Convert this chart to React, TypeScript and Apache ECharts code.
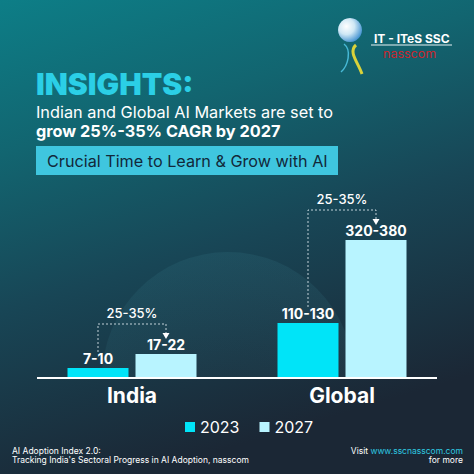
import React, { useEffect, useRef } from "react";
import * as echarts from "echarts";

const categories = ["India", "Global"];
const years = ["2023", "2027"];
// bar heights as drawn in the infographic (visual units)
const barHeights2023 = [10, 55];
const barHeights2027 = [24, 138];
const labels2023 = ["7-10", "110-130"];
const labels2027 = ["17-22", "320-380"];
const growthLabels = ["25-35%", "25-35%"];

const C2023 = "#00e4f8";
const C2027 = "#b8f4ff";
const FONT = "Inter, 'Open Sans', sans-serif";

export default function App() {
  const ref = useRef<HTMLDivElement>(null);
  useEffect(() => {
    if (!ref.current) return;
    const chart = echarts.init(ref.current, null, { renderer: "svg" });
    const BAR_W = 61;
    const GAP = 7;

    const staticGraphics: any[] = [
      {
        type: "sector",
        z: 0,
        shape: { cx: 228, cy: 378, r0: 0, r: 126, startAngle: Math.PI, endAngle: Math.PI * 2 },
        style: {
          fill: new echarts.graphic.RadialGradient(0.5, 1, 1, [
            { offset: 0, color: "rgba(70,150,165,0.06)" },
            { offset: 1, color: "rgba(70,150,165,0.13)" },
          ]),
        },
      },
      // logo
      {
        type: "circle",
        z: 5,
        shape: { cx: 350, cy: 30, r: 12 },
        style: {
          fill: new echarts.graphic.RadialGradient(0.35, 0.35, 0.75, [
            { offset: 0, color: "#ffffff" },
            { offset: 0.45, color: "#cfe8f5" },
            { offset: 1, color: "#2f86cc" },
          ]),
        },
      },
      {
        type: "bezierCurve",
        z: 5,
        shape: { x1: 356, y1: 45, cpx1: 348, cpy1: 52, cpx2: 358, cpy2: 62, x2: 362, y2: 74 },
        style: { stroke: "#d9d23a", lineWidth: 3, fill: "none" },
      },
      {
        type: "bezierCurve",
        z: 5,
        shape: { x1: 344, y1: 44, cpx1: 352, cpy1: 50, cpx2: 348, cpy2: 66, x2: 341, y2: 72 },
        style: { stroke: "#47b9d6", lineWidth: 1.5, fill: "none" },
      },
      {
        type: "text",
        z: 5,
        x: 374,
        y: 38,
        style: {
          text: "IT - ITeS SSC",
          fill: "#ffffff",
          font: `bold 12px ${FONT}`,
          lineHeight: 10,
          textVerticalAlign: "middle",
        },
      },
      {
        type: "line",
        z: 5,
        shape: { x1: 371, y1: 45, x2: 452, y2: 45 },
        style: { stroke: "#e8f2f5", lineWidth: 1 },
      },
      {
        type: "text",
        z: 5,
        x: 383,
        y: 53,
        style: { text: "nasscom", fill: "#c9262d", font: `12.5px ${FONT}`, lineHeight: 10, textVerticalAlign: "middle" },
      },
      // header
      {
        type: "text",
        x: 36,
        y: 84,
        style: {
          text: "INSIGHTS:",
          fill: "#2bcfe6",
          font: `900 30px ${FONT}`,
          lineHeight: 24,
          textVerticalAlign: "middle",
        },
      },
      {
        type: "text",
        x: 36,
        y: 111.5,
        style: {
          text: "Indian and Global AI Markets are set to",
          fill: "#ffffff",
          font: `16.3px ${FONT}`,
          lineHeight: 16,
          textVerticalAlign: "middle",
        },
      },
      {
        type: "text",
        x: 36,
        y: 131,
        style: {
          text: "grow 25%-35% CAGR by 2027",
          fill: "#ffffff",
          font: `bold 16.3px ${FONT}`,
          lineHeight: 16,
          textVerticalAlign: "middle",
        },
      },
      {
        type: "rect",
        shape: { x: 36, y: 146, width: 302, height: 29 },
        style: { fill: "#3fc6df" },
      },
      {
        type: "text",
        x: 47,
        y: 161,
        style: {
          text: "Crucial Time to Learn & Grow with AI",
          fill: "#12283a",
          font: `16.2px ${FONT}`,
          textVerticalAlign: "middle",
        },
      },
      // baseline
      {
        type: "line",
        z: 10,
        shape: { x1: 37, y1: 378, x2: 437, y2: 378 },
        style: { stroke: "#ffffff", lineWidth: 2 },
      },
      // footer
      {
        type: "text",
        x: 12,
        y: 451,
        style: { text: "AI Adoption Index 2.0:", fill: "#ffffff", font: `8.5px ${FONT}`, textVerticalAlign: "middle" },
      },
      {
        type: "text",
        x: 12,
        y: 460,
        style: {
          text: "Tracking India's Sectoral Progress in AI Adoption, nasscom",
          fill: "#ffffff",
          font: `8.5px ${FONT}`,
          textVerticalAlign: "middle",
        },
      },
      {
        type: "text",
        x: 463,
        y: 451,
        style: {
          text: "{a|Visit }{b|www.sscnasscom.com}",
          textAlign: "right",
          textVerticalAlign: "middle",
          font: `8.5px ${FONT}`,
          rich: {
            a: { fill: "#ffffff", fontSize: 8.5, fontFamily: FONT },
            b: { fill: "#2ec9e0", fontSize: 8.5, fontFamily: FONT },
          },
        },
      },
      {
        type: "text",
        x: 463,
        y: 460,
        style: { text: "for more", fill: "#ffffff", font: `8.5px ${FONT}`, textAlign: "right", textVerticalAlign: "middle" },
      },
    ];

    const option: any = {
      animation: false,
      backgroundColor: new echarts.graphic.LinearGradient(0, 0, 0.3, 1, [
        { offset: 0, color: "#0d7e87" },
        { offset: 0.3, color: "#126570" },
        { offset: 0.6, color: "#184656" },
        { offset: 1, color: "#1b2735" },
      ]),
      grid: { left: 27, right: 27, top: 178, bottom: 96, containLabel: false },
      legend: {
        data: years,
        left: 180,
        top: 414,
        icon: "rect",
        itemWidth: 10,
        itemHeight: 10,
        itemGap: 20,
        textStyle: { color: "#ffffff", fontSize: 16, fontFamily: FONT },
      },
      xAxis: {
        type: "category",
        data: categories,
        axisLine: { show: false },
        axisTick: { show: false },
        axisLabel: { color: "#ffffff", fontSize: 21, fontWeight: "bold", fontFamily: FONT, margin: 7 },
      },
      yAxis: { type: "value", min: 0, max: 200, show: false, splitLine: { show: false } },
      series: [
        {
          name: years[0],
          type: "bar",
          data: barHeights2023,
          barWidth: BAR_W,
          barGap: `${(GAP / BAR_W) * 100}%`,
          itemStyle: { color: C2023 },
          z: 3,
          label: {
            show: true,
            position: "top",
            distance: 3,
            color: "#ffffff",
            fontSize: 14,
            fontWeight: "bold",
            fontFamily: FONT,
            formatter: (p: any) => labels2023[p.dataIndex],
          },
        },
        {
          name: years[1],
          type: "bar",
          data: barHeights2027,
          barWidth: BAR_W,
          itemStyle: { color: C2027 },
          z: 3,
          label: {
            show: true,
            position: "top",
            distance: 3,
            color: "#ffffff",
            fontSize: 14,
            fontWeight: "bold",
            fontFamily: FONT,
            formatter: (p: any) => labels2027[p.dataIndex],
          },
        },
      ],
      graphic: { elements: staticGraphics },
    };
    chart.setOption(option);

    // growth annotations computed from the chart's own scales
    const dyn: any[] = [];
    const off = (BAR_W + GAP) / 2;
    categories.forEach((c, i) => {
      const cx = chart.convertToPixel({ xAxisIndex: 0 }, c) as unknown as number;
      const xa = cx - off;
      const xb = cx + off;
      const ya = chart.convertToPixel({ yAxisIndex: 0 }, barHeights2023[i]) as unknown as number;
      const yb = chart.convertToPixel({ yAxisIndex: 0 }, barHeights2027[i]) as unknown as number;
      const yStart = ya - 16;
      const yH = yb - 30;
      const yTip = yb - 15;
      dyn.push({
        type: "polyline",
        z: 6,
        shape: { points: [[xa, yStart], [xa, yH], [xb, yH], [xb, yTip - 5]] },
        style: { stroke: "rgba(235,245,250,0.8)", lineWidth: 1, lineDash: [2, 2], fill: "none" },
      });
      dyn.push({
        type: "polygon",
        z: 6,
        shape: { points: [[xb - 3.5, yTip - 6], [xb + 3.5, yTip - 6], [xb, yTip]] },
        style: { fill: "#ffffff" },
      });
      dyn.push({
        type: "text",
        z: 6,
        x: (xa + xb) / 2,
        y: yH - 11,
        style: {
          text: growthLabels[i],
          fill: "#ffffff",
          font: `500 13px ${FONT}`,
          textAlign: "center",
          textVerticalAlign: "middle",
        },
      });
    });
    chart.setOption({ graphic: { elements: [...staticGraphics, ...dyn] } });

    return () => chart.dispose();
  }, []);
  return <div ref={ref} style={{ width: 474, height: 474, position: "absolute", left: 0, top: 0 }} />;
}
